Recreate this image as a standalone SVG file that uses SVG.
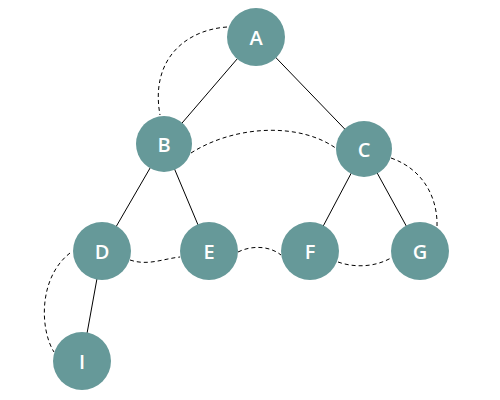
<svg xmlns="http://www.w3.org/2000/svg" width="500" height="400" viewBox="0 0 500 400">
<style>
.edge{stroke:#000;stroke-width:1;fill:none}
.thread{stroke:#000;stroke-width:1;fill:none;stroke-dasharray:4 3}
.node circle{fill:#669999}
.node text{fill:#fff;font-family:"Open Sans","Noto Sans",sans-serif;font-weight:600;font-size:20px;text-anchor:middle;dominant-baseline:central}
</style>
<rect width="500" height="400" fill="#fff"/>
<g id="connectors">
<line class="edge" x1="256" y1="37" x2="164" y2="144"/>
<line class="edge" x1="256" y1="37" x2="364" y2="149"/>
<line class="edge" x1="164" y1="144" x2="102" y2="251"/>
<line class="edge" x1="164" y1="144" x2="209" y2="251"/>
<line class="edge" x1="364" y1="149" x2="310" y2="251"/>
<line class="edge" x1="364" y1="149" x2="420" y2="251"/>
<line class="edge" x1="102" y1="251" x2="82" y2="361"/>
<path class="thread" d="M227,27 C185,30 150,60 160,115"/>
<path class="thread" d="M191,153 C235,125 300,122 337,149"/>
<path class="thread" d="M391,158 C425,170 438,200 437,227"/>
<path class="thread" d="M338,262 C355,268 375,267 391,258"/>
<path class="thread" d="M130,260 C148,266 162,259 180,257"/>
<path class="thread" d="M238,252 C252,245 270,246 281,255"/>
<path class="thread" d="M70,253 C38,278 40,330 54,352"/>
</g>
<g id="node-A" class="node"><circle cx="256" cy="37" r="29"/><text x="256" y="37">A</text></g>
<g id="node-B" class="node"><circle cx="164" cy="144" r="28"/><text x="164" y="144">B</text></g>
<g id="node-C" class="node"><circle cx="364" cy="149" r="28"/><text x="364" y="149">C</text></g>
<g id="node-D" class="node"><circle cx="102" cy="251" r="29"/><text x="102" y="251">D</text></g>
<g id="node-E" class="node"><circle cx="209" cy="251" r="29"/><text x="209" y="251">E</text></g>
<g id="node-F" class="node"><circle cx="310" cy="251" r="29"/><text x="310" y="251">F</text></g>
<g id="node-G" class="node"><circle cx="420" cy="251" r="29"/><text x="420" y="251">G</text></g>
<g id="node-I" class="node"><circle cx="82" cy="361" r="29"/><text x="82" y="361">I</text></g>
</svg>
